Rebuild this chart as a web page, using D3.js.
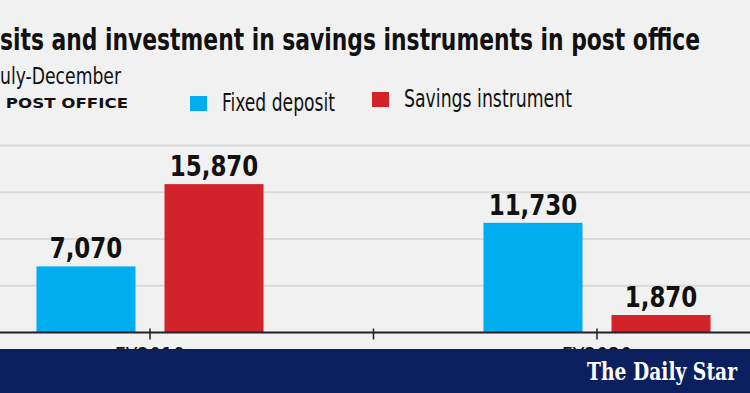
<!DOCTYPE html>
<html>
<head>
<meta charset="utf-8">
<script src="https://cdn.jsdelivr.net/npm/d3@7"></script>
<style>
    body { margin: 0; background: #f1f1f1; }
    svg { display: block; }
</style>
</head>
<body>
<svg id="chart" width="750" height="393"></svg>
<script>
// Chart data
const categories = ['FY2019', 'FY2020'];
const seriesNames = ['Fixed deposit', 'Savings instrument'];
const fixedDeposit = [7070, 11730];
const savingsInstrument = [15870, 1870];
const gridTicks = [5000, 10000, 15000, 20000];
const seriesColors = ['#00aeef', '#d2232a'];

const titleText = 'Deposits and investment in savings instruments in post office';
const subtitleText = 'July-December';
const sourceText = 'SOURCE: POST OFFICE';
const brandText = 'The Daily Star';

const narrow = '"Liberation Sans Narrow", "DejaVu Sans Condensed", Roboto, sans-serif';

const svg = d3.select('#chart');
const width = 750;
const height = 393;

svg.append('rect')
    .attr('width', width)
    .attr('height', height)
    .attr('fill', '#f1f1f1');

// Stretch a text so its part after `hidden` chars spans `visible` px
function fitVisible(sel, hidden, visible) {
    const node = sel.node();
    const full = node.getComputedTextLength();
    const cut = hidden > 0 ? node.getSubStringLength(0, hidden) : 0;
    const total = visible * full / (full - cut);
    sel.attr('textLength', total).attr('lengthAdjust', 'spacingAndGlyphs');
}

// Scales (the graphic is cropped, so the outer bands run past the edges)
const x0 = d3.scaleBand()
    .domain(categories)
    .range([-73.5, 820.5])
    .padding(0);

const x1 = d3.scaleBand()
    .domain(seriesNames)
    .range([0, x0.bandwidth()])
    .paddingInner(0.2266)
    .paddingOuter(0.859);

const y = d3.scaleLinear()
    .domain([0, 20000])
    .range([332.5, 145.5]);

// Gridlines
svg.append('g')
    .selectAll('line')
    .data(gridTicks)
    .join('line')
    .attr('x1', 0)
    .attr('x2', width)
    .attr('y1', d => y(d))
    .attr('y2', d => y(d))
    .attr('stroke', '#d9d9d9')
    .attr('stroke-width', 2);

// Bars
const rows = categories.map((c, i) => ({
    category: c,
    values: [fixedDeposit[i], savingsInstrument[i]]
}));

const group = svg.append('g')
    .selectAll('g')
    .data(rows)
    .join('g')
    .attr('transform', d => `translate(${x0(d.category)},0)`);

group.selectAll('rect')
    .data(d => d.values.map((v, j) => ({ series: seriesNames[j], value: v, color: seriesColors[j] })))
    .join('rect')
    .attr('x', d => x1(d.series))
    .attr('width', x1.bandwidth())
    .attr('y', d => y(d.value))
    .attr('height', d => y(0) - y(d.value))
    .attr('fill', d => d.color);

group.selectAll('text.value')
    .data(d => d.values.map((v, j) => ({ series: seriesNames[j], value: v })))
    .join('text')
    .attr('class', 'value')
    .attr('x', d => x1(d.series) + x1.bandwidth() / 2)
    .attr('y', d => y(d.value) - 8)
    .attr('text-anchor', 'middle')
    .attr('font-family', narrow)
    .attr('font-weight', 'bold')
    .attr('font-size', 29)
    .attr('fill', '#111')
    .text(d => d3.format(',')(d.value))
    .each(function() {
        // squeeze a bit to match the condensed numerals
        const len = this.getComputedTextLength();
        d3.select(this).attr('textLength', len * 0.88).attr('lengthAdjust', 'spacingAndGlyphs');
    });

// X axis labels (mostly hidden behind the brand band)
const xAxis = d3.axisBottom(x0).tickSize(0).tickPadding(16);
const axisG = svg.append('g')
    .attr('transform', `translate(0,${y(0)})`)
    .call(xAxis);

axisG.select('.domain').remove();
axisG.selectAll('text')
    .attr('font-family', narrow)
    .attr('font-size', 21)
    .attr('fill', '#111');

svg.append('line')
    .attr('x1', 0)
    .attr('x2', width)
    .attr('y1', y(0))
    .attr('y2', y(0))
    .attr('stroke', '#222')
    .attr('stroke-width', 2);

const tickXs = categories.map(c => x0(c) + x0.bandwidth() / 2)
    .concat(categories.map(c => x0(c)));

svg.append('g')
    .selectAll('line')
    .data(tickXs)
    .join('line')
    .attr('x1', d => d)
    .attr('x2', d => d)
    .attr('y1', y(0) - 4)
    .attr('y2', y(0) + 7)
    .attr('stroke', '#222')
    .attr('stroke-width', 1.5);

// Title block (cropped on the left)
const title = svg.append('text')
    .attr('x', 700)
    .attr('y', 50)
    .attr('text-anchor', 'end')
    .attr('font-family', narrow)
    .attr('font-weight', 'bold')
    .attr('font-size', 30)
    .attr('fill', '#111')
    .text(titleText);
fitVisible(title, 4, 700);

const subtitle = svg.append('text')
    .attr('x', 121)
    .attr('y', 84)
    .attr('text-anchor', 'end')
    .attr('font-family', narrow)
    .attr('font-size', 23)
    .attr('fill', '#111')
    .text(subtitleText);
fitVisible(subtitle, 1, 121);

const source = svg.append('text')
    .attr('x', 128)
    .attr('y', 108)
    .attr('text-anchor', 'end')
    .attr('font-family', '"DejaVu Sans", sans-serif')
    .attr('font-weight', 'bold')
    .attr('font-size', 14)
    .attr('fill', '#111')
    .text(sourceText);
fitVisible(source, 7, 128);

// Legend
const legendItems = [
    { name: seriesNames[0], color: seriesColors[0], x: 190, base: 111, w: 113 },
    { name: seriesNames[1], color: seriesColors[1], x: 372, base: 107, w: 168 }
];

const legend = svg.append('g')
    .selectAll('g')
    .data(legendItems)
    .join('g')
    .attr('transform', d => `translate(${d.x},${d.base})`);

legend.append('rect')
    .attr('x', 0)
    .attr('y', -15)
    .attr('width', 17)
    .attr('height', 15)
    .attr('fill', d => d.color);

legend.append('text')
    .attr('x', 32)
    .attr('font-family', narrow)
    .attr('font-size', 24)
    .attr('fill', '#111')
    .text(d => d.name)
    .each(function(d) {
        d3.select(this).attr('textLength', d.w).attr('lengthAdjust', 'spacingAndGlyphs');
    });

// Bottom brand band
svg.append('rect')
    .attr('x', 0)
    .attr('y', 349)
    .attr('width', width)
    .attr('height', height - 349)
    .attr('fill', '#0c1f5f');

svg.append('text')
    .attr('x', 587)
    .attr('y', 380)
    .attr('font-family', '"DejaVu Serif", serif')
    .attr('font-weight', 'bold')
    .attr('font-size', 25)
    .attr('fill', '#fff')
    .attr('textLength', 150)
    .attr('lengthAdjust', 'spacingAndGlyphs')
    .text(brandText);
</script>
</body>
</html>
